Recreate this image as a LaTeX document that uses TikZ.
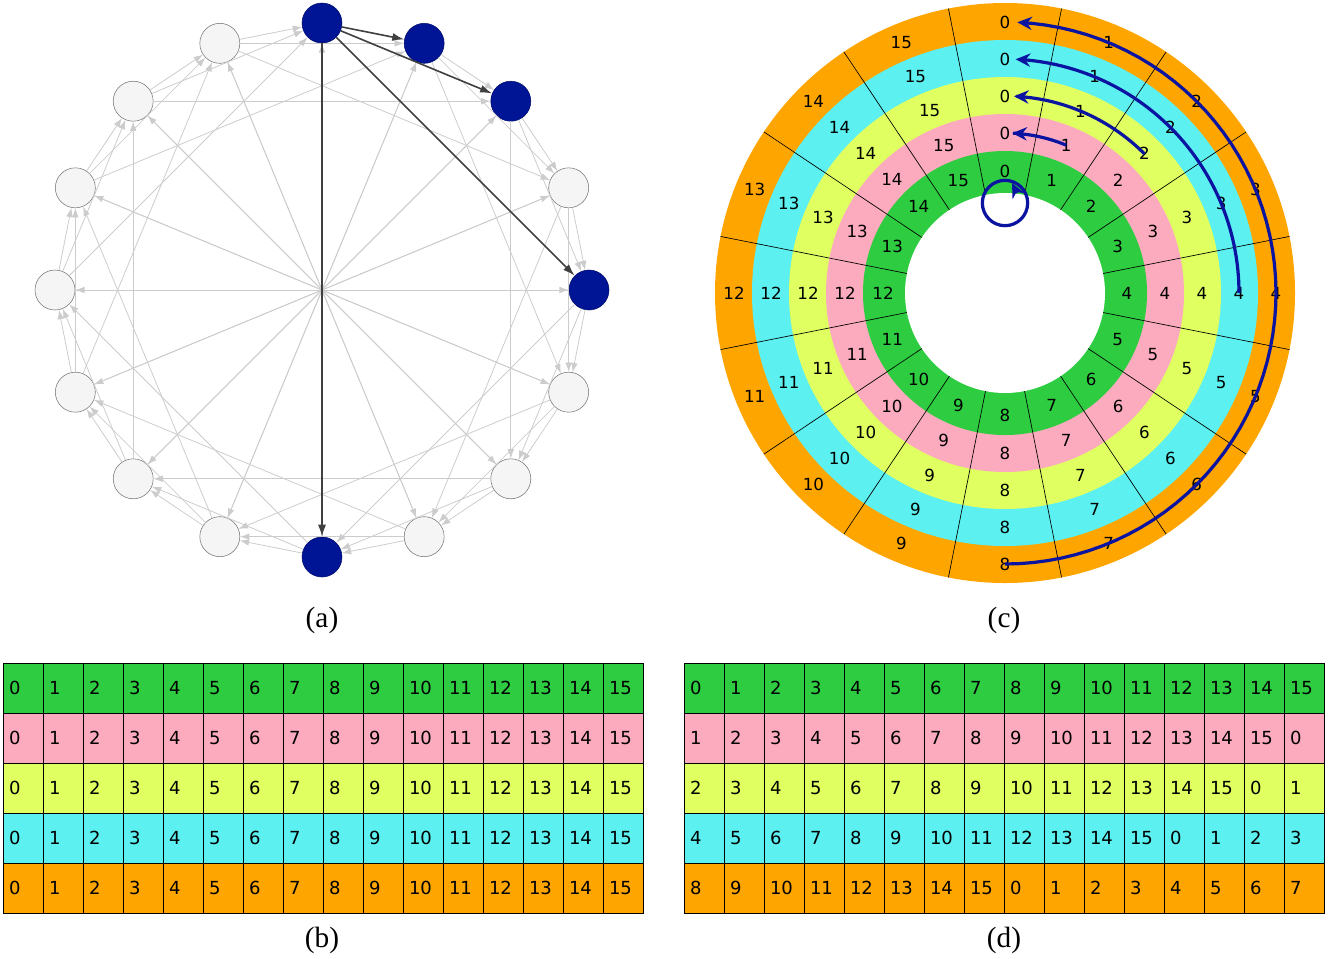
\documentclass[tikz,border=0pt]{standalone}
\usepackage{fontspec}
\setmainfont{Liberation Serif}
\setsansfont{DejaVu Sans}
\usetikzlibrary{arrows.meta}
\definecolor{cG}{RGB}{46,204,64}
\definecolor{cP}{RGB}{252,170,190}
\definecolor{cY}{RGB}{224,255,96}
\definecolor{cC}{RGB}{92,240,240}
\definecolor{cO}{RGB}{255,165,0}
\definecolor{nblue}{RGB}{0,20,150}
\definecolor{dblue}{RGB}{10,20,160}
\tikzset{
 gnode/.style={circle,draw=black!55,fill=black!4,minimum size=30pt,inner sep=0},
 bnode/.style={circle,draw=nblue!70!black,fill=nblue,minimum size=30pt,inner sep=0},
 gedge/.style={draw=black!20,line width=0.6pt,-{Latex[length=7pt,width=5pt]}},
 dedge/.style={draw=black!75,line width=1.2pt,-{Latex[length=9pt,width=6pt]}},
 cell/.style={draw=black,line width=0.5pt,minimum height=37.5pt,inner xsep=4.5pt,inner ysep=0pt,text width=21pt,align=left,font=\sffamily\fontsize{13.5}{14}\selectfont},
 rlab/.style={font=\sffamily\fontsize{12.5}{13}\selectfont,inner sep=1pt},
 captxt/.style={font=\fontsize{22}{24}\selectfont},
 barrow/.style={draw=dblue,line width=2.4pt,-{Stealth[length=11pt,width=10pt]}},
}
\begin{document}
\begin{tikzpicture}[x=0.75pt,y=-0.75pt]
\useasboundingbox (0,0) rectangle (1328,958);
% ---------- (a) graph
\def\cx{322}\def\cy{290}\def\R{267}
\foreach \i in {0,...,15}{
  \pgfmathsetmacro\px{\cx+\R*sin(22.5*\i)}
  \pgfmathsetmacro\py{\cy-\R*cos(22.5*\i)}
  \ifnum\i=0 \node[bnode] (n\i) at (\px,\py) {};
  \else\ifnum\i=1 \node[bnode] (n\i) at (\px,\py) {};
  \else\ifnum\i=2 \node[bnode] (n\i) at (\px,\py) {};
  \else\ifnum\i=4 \node[bnode] (n\i) at (\px,\py) {};
  \else\ifnum\i=8 \node[bnode] (n\i) at (\px,\py) {};
  \else \node[gnode] (n\i) at (\px,\py) {};
  \fi\fi\fi\fi\fi
}
\foreach \i in {1,...,15}{
  \foreach \d in {1,2,4,8}{
    \pgfmathtruncatemacro\j{mod(\i+\d,16)}
    \draw[gedge] (n\i) -- (n\j);
  }
}
\foreach \j in {1,2,4,8}{\draw[dedge] (n0) -- (n\j);}
\node[captxt] (ca) at (322,620) {(a)};
% ---------- (c) rings
\def\qx{1005}\def\qy{293}
\fill[cO] (\qx,\qy) circle[radius=217.5pt];
\fill[cC] (\qx,\qy) circle[radius=189.75pt];
\fill[cY] (\qx,\qy) circle[radius=162pt];
\fill[cP] (\qx,\qy) circle[radius=134.25pt];
\fill[cG] (\qx,\qy) circle[radius=106.5pt];
\fill[white] (\qx,\qy) circle[radius=75pt];
\foreach \k in {0,...,15}{
  \pgfmathsetmacro\a{11.25+22.5*\k}
  \draw[black,line width=0.5pt] ({\qx+100*sin(\a)},{\qy-100*cos(\a)}) -- ({\qx+290*sin(\a)},{\qy-290*cos(\a)});
}
\foreach \rr/\rad in {0/122,1/160,2/197,3/234,4/271}{
  \foreach \k in {0,...,15}{
    \node[rlab] (r\rr-\k) at ({\qx+\rad*sin(22.5*\k)},{\qy-\rad*cos(22.5*\k)}) {\k};
  }
}
\node[captxt] (cc) at (1004,620) {(c)};
% blue arrows
\draw[dblue,line width=2.4pt] (1005,203) circle[radius=17pt];
\draw[barrow] (1017,193) -- (1012,183);
\foreach \s/\rad in {1/160,2/197,4/234,8/271}{
  \draw[barrow] plot[domain={22.5*\s}:2.6,samples=60] ({\qx+\rad*sin(\x)},{\qy-\rad*cos(\x)});
}
% ---------- tables
\foreach \r/\col/\s in {0/cG/0,1/cP/1,2/cY/2,3/cC/4,4/cO/8}{
  \foreach \c in {0,...,15}{
    \pgfmathtruncatemacro\v{mod(\c+\s,16)}
    \node[cell,fill=\col] (b\r-\c) at ({23+40*\c},{688+50*\r}) {\c};
    \node[cell,fill=\col] (d\r-\c) at ({704+40*\c},{688+50*\r}) {\v};
  }
}
\node[captxt] (cb) at (322,940) {(b)};
\node[captxt] (cd) at (1004,940) {(d)};
\end{tikzpicture}
\end{document}
